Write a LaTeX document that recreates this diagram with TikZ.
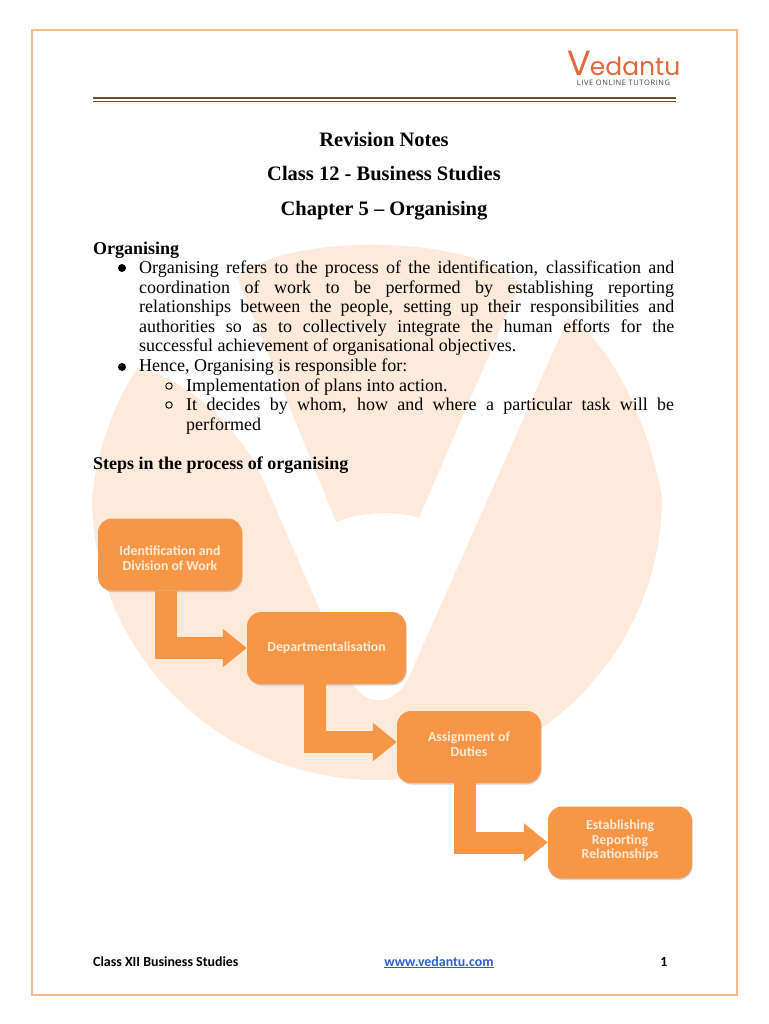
\documentclass[tikz,border=0pt]{standalone}
\usepackage{xcolor}
\usepackage{fontspec}
\usetikzlibrary{arrows.meta, shadows}
\setmainfont{Liberation Serif}
\newfontfamily\calibrifont{Carlito}
\newfontfamily\logofont{Poppins}
\newfontfamily\tagfont{Open Sans}
\definecolor{pageline}{HTML}{F6B98A}
\definecolor{markpale}{HTML}{FDEADB}
\definecolor{floworange}{HTML}{F79646}
\definecolor{flowtext}{HTML}{FDEBD8}
\definecolor{logored}{HTML}{E0673A}
\definecolor{ruledark}{HTML}{7A4A24}
\definecolor{linkblue}{HTML}{2F5FBF}
\tikzset{
    titletext/.style={anchor=base, font=\fontsize{20.5}{24}\selectfont\bfseries},
    headtext/.style={anchor=base west, inner sep=0pt, font=\fontsize{18}{19.6}\selectfont\bfseries},
    bodytext/.style={anchor=base west, inner sep=0pt, text width=#1, align=justify, font=\fontsize{18}{19.6}\selectfont},
    bulletdot/.style={circle, fill=black, inner sep=0pt, minimum size=8pt},
    bulletring/.style={circle, draw=black, line width=0.9pt, inner sep=0pt, minimum size=6.5pt},
    flowbox/.style={rectangle, rounded corners=14pt, fill=floworange, text=flowtext, minimum width=144pt, minimum height=72pt, align=center,
        font=\calibrifont\fontsize{13.8}{14.5}\selectfont\bfseries, drop shadow={opacity=0.35, shadow xshift=0.5pt, shadow yshift=-1.5pt}},
    flowarrow/.style={draw=floworange, line width=22pt, -{Triangle[length=24pt, width=37pt, fill=floworange]}},
    foottext/.style={anchor=base, inner sep=0pt, font=\calibrifont\fontsize{13.9}{15}\selectfont\bfseries}
}
\begin{document}
\begin{tikzpicture}[x=1pt, y=-1pt]
    \useasboundingbox (0,0) rectangle (768,1024);
    % watermark
    \fill[markpale] (92,497) arc[start angle=180, end angle=0, x radius=285, y radius=283]
        .. controls (650,430) and (615,345) .. (568,318) -- (409,677) .. controls (395,708) and (362,708) .. (349,677) -- (262,477)
        .. controls (240,430) and (190,380) .. (138,368) .. controls (115,400) and (97,450) .. (92,497) -- cycle;
    \fill[markpale] (237,277) .. controls (285,233) and (470,233) .. (520,283) -- (419,518) .. controls (395,510) and (360,512) .. (336,522) -- cycle;

    % page frame and header
    \draw[pageline, line width=1.4pt] (32,30) rectangle (737,995);
    \draw[ruledark, line width=2.6pt] (93,98) -- (676,98);
    \draw[ruledark, line width=0.8pt] (93,101) -- (676,101);
    \node[anchor=base west, inner sep=0pt, text=logored, font=\logofont] (logo) at (567,76) {\fontsize{35}{35}\selectfont V\kern-1pt\fontsize{25}{25}\selectfont edantu};
    \node[anchor=base, inner sep=0pt, text=black!75, font=\tagfont\fontsize{7.5}{8}\selectfont] (tagline) at (623.5,86) {\addfontfeature{LetterSpace=8}LIVE ONLINE TUTORING};

    % titles
    \node[titletext] (rev) at (384,147) {Revision Notes};
    \node[titletext] (cls) at (384,181) {Class 12 - Business Studies};
    \node[titletext] (chp) at (384,216) {Chapter 5 -- Organising};

    % text
    \node[headtext] (orghead) at (93,254) {Organising};
    \node[bulletdot] (dot1) at (122,268) {};
    \node[bodytext=535pt] (para1) at (139,273.5) {Organising refers to the process of the identification, classification and\linebreak coordination of work to be performed by establishing reporting\linebreak relationships between the people, setting up their responsibilities and\linebreak authorities so as to collectively integrate the human efforts for the\linebreak successful achievement of organisational objectives.};
    \node[bulletdot] (dot2) at (122,367) {};
    \node[bodytext=535pt] (para2) at (139,371.5) {Hence, Organising is responsible for:};
    \node[bulletring] (ring1) at (169,386) {};
    \node[bodytext=488pt] (item1) at (186,391) {Implementation of plans into action.};
    \node[bulletring] (ring2) at (169,405) {};
    \node[bodytext=488pt] (item2) at (186,410.5) {It decides by whom, how and where a particular task will be\linebreak performed};
    \node[headtext] (stephead) at (93,469) {Steps in the process of organising};

    % flow
    \node[flowbox] (ident) at (170,554.5) {\rule{0pt}{17pt}Identification and\\Division of Work};
    \node[flowbox, minimum width=159pt] (dept) at (326.5,648) {Departmentalisation};
    \node[flowbox] (assign) at (469,747) {Assignment of\\Duties\rule[-6pt]{0pt}{6pt}};
    \node[flowbox] (report) at (620,842.5) {Establishing\\Reporting\\Relationships\rule[-6pt]{0pt}{6pt}};
    \draw[flowarrow] ([xshift=-4pt]ident.south) |- (dept.west);
    \draw[flowarrow] ([xshift=-11.5pt]dept.south) |- ([yshift=5pt]assign.west);
    \draw[flowarrow] ([xshift=-4pt]assign.south) |- (report.west);

    % footer
    \node[foottext, anchor=base west] (footl) at (93,966) {Class XII Business Studies};
    \node[foottext, text=linkblue] (footm) at (439,966) {www.vedantu.com};
    \draw[linkblue, line width=0.9pt] ([yshift=-1.5pt]footm.south west) -- ([yshift=-1.5pt]footm.south east);
    \node[foottext] (footr) at (664,966) {1};
\end{tikzpicture}
\end{document}
